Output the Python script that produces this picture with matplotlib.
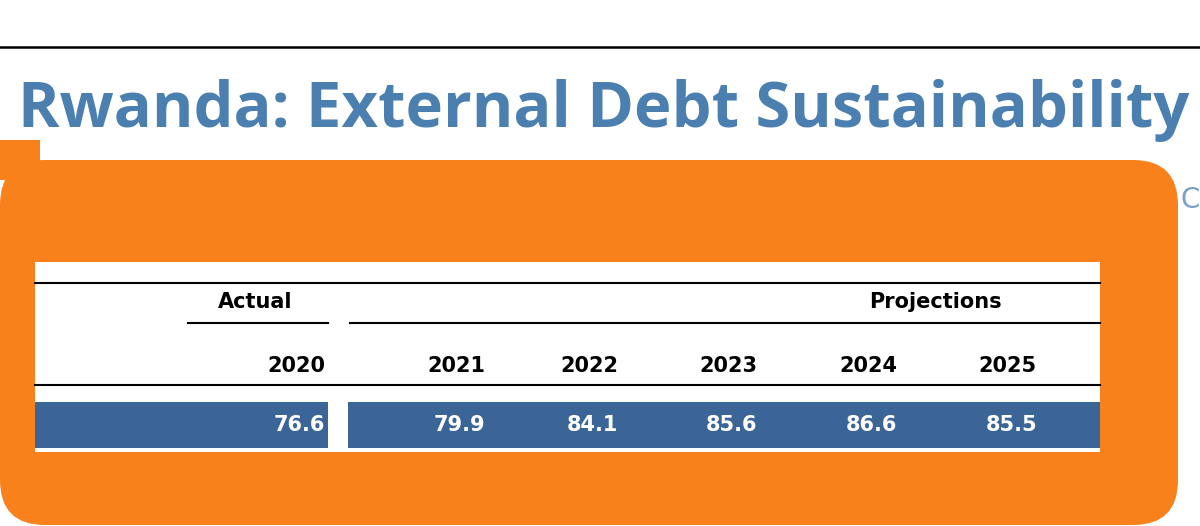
import matplotlib
matplotlib.use("Agg")
import matplotlib.pyplot as plt
from matplotlib.patches import FancyBboxPatch, Rectangle

years = ["2020", "2021", "2022", "2023", "2024", "2025"]
values = [76.6, 79.9, 84.1, 85.6, 86.6, 85.5]
col_right = [325, 485, 618, 757, 897, 1037]

blue = "#4A7FB0"
band = "#3C6597"
orange = "#F8811C"

fig = plt.figure(figsize=(12, 5.26), dpi=100)
ax = fig.add_axes([0, 0, 1, 1])
ax.set_xlim(0, 1200); ax.set_ylim(526, 0); ax.axis("off")

ax.plot([0, 1200], [47, 47], color="black", lw=1.8)
ax.text(18, 110, "Rwanda: External Debt Sustainability", color=blue,
        fontsize=45.5, fontweight="bold", va="center", ha="left", family="Open Sans")

# orange marker outline
ax.add_patch(FancyBboxPatch((0, 160), 1178, 365, boxstyle="round,pad=0,rounding_size=45",
                            fc=orange, ec="none"))
ax.add_patch(Rectangle((0, 140), 40, 40, fc=orange, ec="none"))
ax.add_patch(Rectangle((35, 262), 1065, 190, fc="white", ec="none"))
ax.text(1181, 200, "C", color="#7aa0c8", fontsize=20, va="center", ha="left")

# table
ax.plot([35, 1100], [283, 283], color="black", lw=1.5)
ax.text(255, 302, "Actual", fontsize=15, fontweight="bold", ha="center", va="center")
ax.plot([188, 328], [323, 323], color="black", lw=1.5)
ax.text(935, 302, "Projections", fontsize=15, fontweight="bold", ha="center", va="center")
ax.plot([350, 1100], [323, 323], color="black", lw=1.5)
ax.plot([35, 1100], [385, 385], color="black", lw=1.5)
ax.add_patch(Rectangle((35, 402), 293, 46, fc=band, ec="none"))
ax.add_patch(Rectangle((348, 402), 752, 46, fc=band, ec="none"))
for x, y, v in zip(col_right, years, values):
    ax.text(x, 366, y, fontsize=15, fontweight="bold", ha="right", va="center")
    ax.text(x, 425, f"{v:.1f}", fontsize=15, fontweight="bold", ha="right", va="center", color="white")

fig.savefig("out.png", dpi=100, facecolor="white")
